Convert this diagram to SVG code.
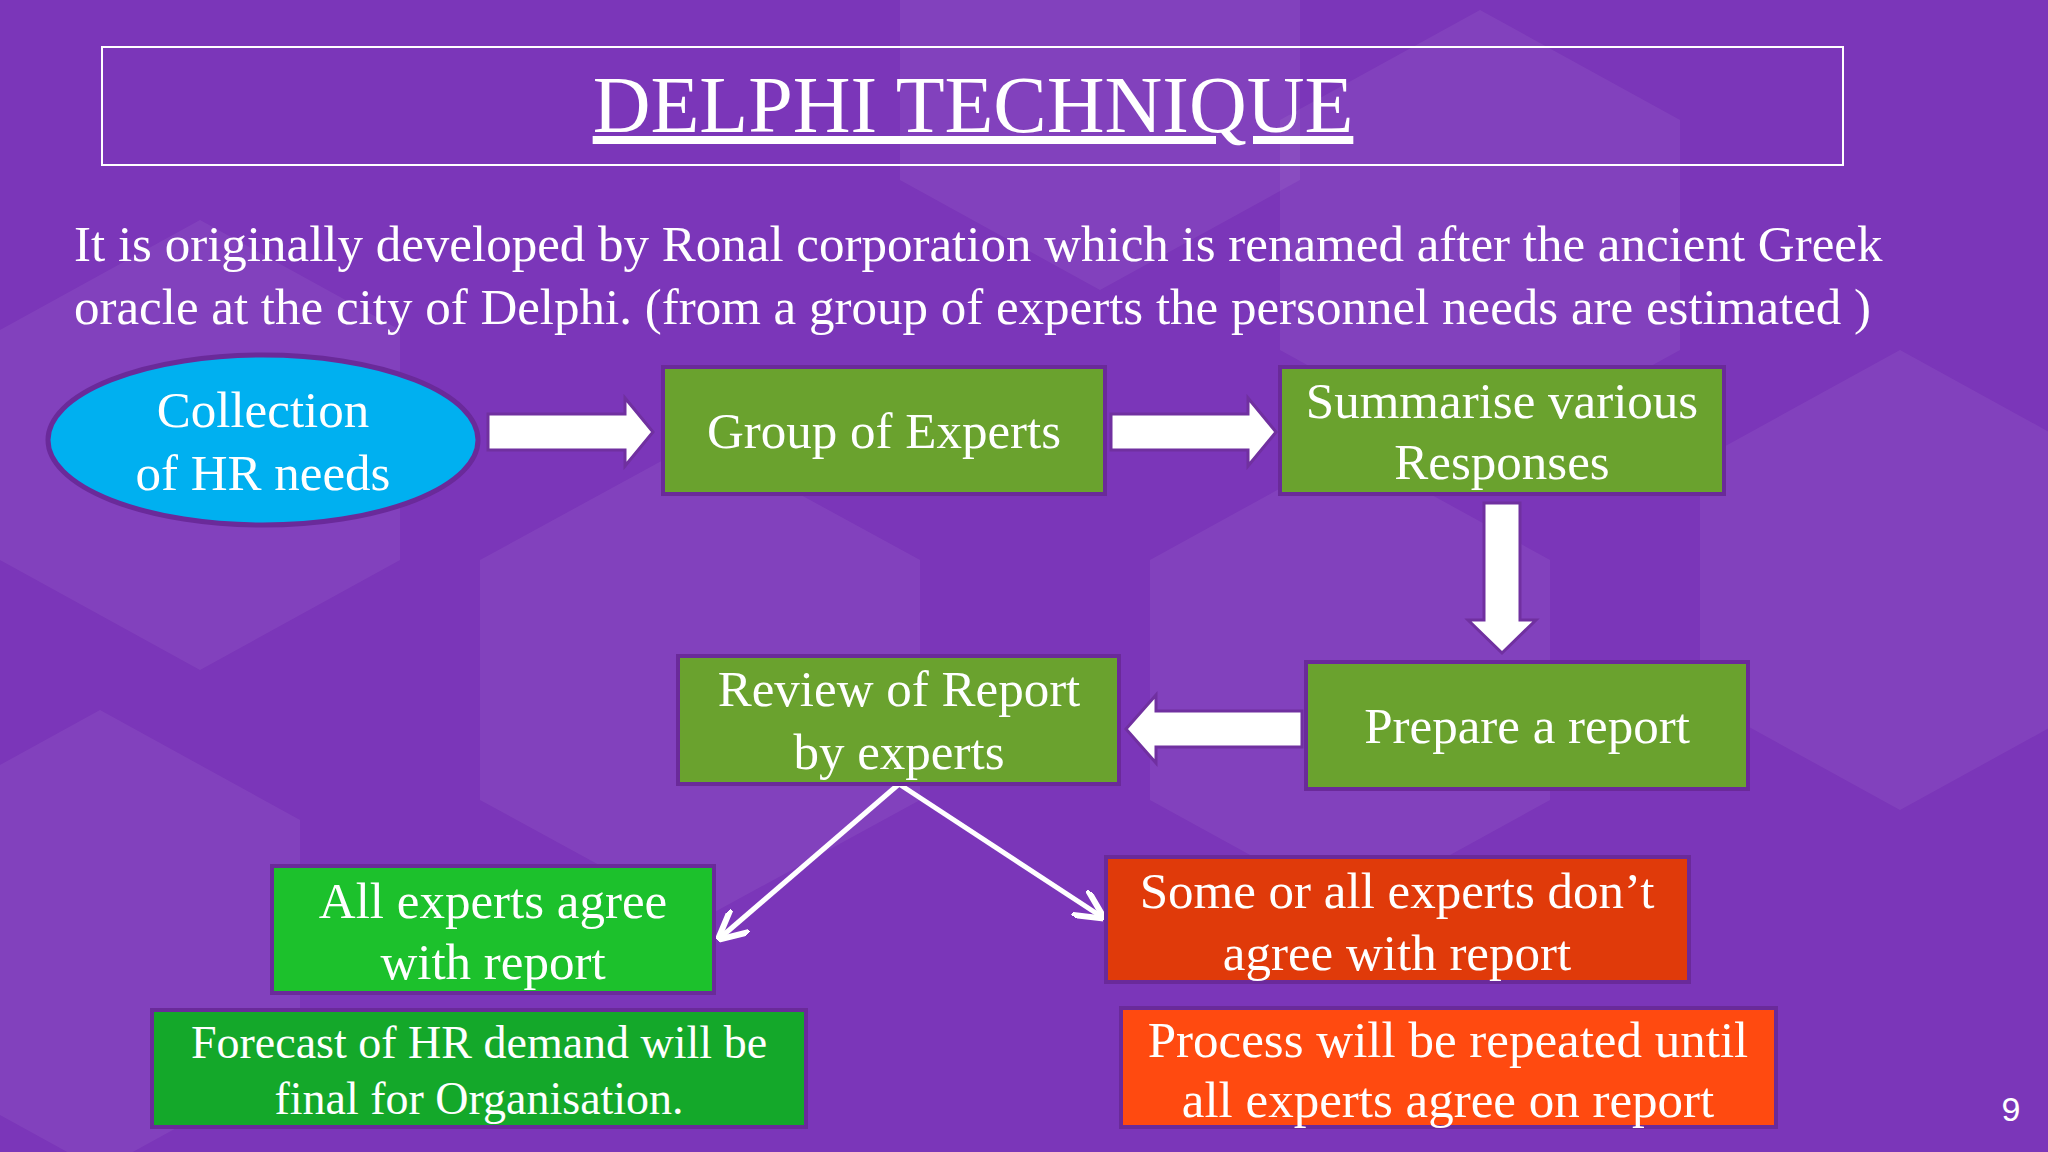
<svg xmlns="http://www.w3.org/2000/svg" width="2048" height="1152" viewBox="0 0 2048 1152">
<defs>
<style>
text{font-family:"Liberation Serif",serif;fill:#fff;text-anchor:middle}
.box{stroke:#6a2a9a;stroke-width:4}
.g{fill:#6aa22e}
.t{font-size:51px}
.hex{fill:#ffffff;opacity:0.06}
.ba{fill:#fff;stroke:#7030a0;stroke-width:3}
.ln{stroke:#fff;stroke-width:5;fill:none}
</style>
<marker id="ah" viewBox="0 0 10 10" refX="9" refY="5" markerWidth="6" markerHeight="6" orient="auto" markerUnits="strokeWidth"><path d="M0,0 L10,5 L0,10" fill="none" stroke="#fff" stroke-width="2"/></marker>
</defs>
<rect width="2048" height="1152" fill="#7b36b9"/>
<g>
<polygon class="hex" points="0,330 200,220 400,330 400,560 200,670 0,560"/>
<polygon class="hex" points="480,560 700,440 920,560 920,800 700,920 480,800"/>
<polygon class="hex" points="1280,120 1480,10 1680,120 1680,350 1480,460 1280,350"/>
<polygon class="hex" points="1700,460 1900,350 2100,460 2100,700 1900,810 1700,700"/>
<polygon class="hex" points="-100,820 100,710 300,820 300,1060 100,1170 -100,1060"/>
<polygon class="hex" points="900,-60 1100,-170 1300,-60 1300,180 1100,290 900,180"/>
<polygon class="hex" points="1150,560 1350,450 1550,560 1550,800 1350,910 1150,800"/>
</g>
<rect x="102" y="47" width="1741" height="118" fill="none" stroke="#fff" stroke-width="2"/>
<text x="973" y="132" font-size="80" text-decoration="underline">DELPHI TECHNIQUE</text>
<text x="74" y="261" font-size="51" style="text-anchor:start">It is originally developed by Ronal corporation which is renamed after the ancient Greek</text>
<text x="74" y="324" font-size="51" style="text-anchor:start">oracle at the city of Delphi. (from a group of experts the personnel needs are estimated )</text>
<g id="connectors">
<polygon class="ba" points="488,414 625,414 625,398 653,432 625,466 625,450 488,450"/>
<polygon class="ba" points="1111,414 1248,414 1248,398 1276,432 1248,466 1248,450 1111,450"/>
<polygon class="ba" points="1484,503 1520,503 1520,620 1536,620 1502,653 1468,620 1484,620"/>
<polygon class="ba" points="1302,711 1156,711 1156,695 1126,729 1156,763 1156,747 1302,747"/>
<line class="ln" x1="899" y1="784" x2="720" y2="938" marker-end="url(#ah)"/>
<line class="ln" x1="899" y1="784" x2="1102" y2="917" marker-end="url(#ah)"/>
</g>
<g id="n1"><ellipse cx="263" cy="440" rx="215" ry="85" fill="#00b0f0" stroke="#6a2a9a" stroke-width="5"/>
<text class="t" x="263" y="427">Collection</text><text class="t" x="263" y="490">of HR needs</text></g>
<g id="n2"><rect class="box g" x="663" y="367" width="442" height="127"/><text class="t" x="884" y="448">Group of Experts</text></g>
<g id="n3"><rect class="box g" x="1280" y="367" width="444" height="127"/><text class="t" x="1502" y="418">Summarise various</text><text class="t" x="1502" y="479">Responses</text></g>
<g id="n4"><rect class="box g" x="1306" y="662" width="442" height="127"/><text class="t" x="1527" y="743">Prepare a report</text></g>
<g id="n5"><rect class="box g" x="678" y="656" width="441" height="128"/><text class="t" x="899" y="706">Review of Report</text><text class="t" x="899" y="769">by experts</text></g>
<g id="n6"><rect class="box" fill="#1cc12c" x="272" y="866" width="442" height="127"/><text class="t" x="493" y="918">All experts agree</text><text class="t" x="493" y="979">with report</text></g>
<g id="n7"><rect class="box" fill="#14a82a" x="152" y="1010" width="654" height="117"/><text x="479" y="1058" font-size="46">Forecast of HR demand will be</text><text x="479" y="1114" font-size="46">final for Organisation.</text></g>
<g id="n8"><rect class="box" fill="#e03a0a" x="1106" y="857" width="583" height="125"/><text class="t" x="1397" y="908">Some or all experts don’t</text><text class="t" x="1397" y="970">agree with report</text></g>
<g id="n9"><rect class="box" fill="#ff4a10" x="1121" y="1008" width="655" height="119"/><text class="t" x="1448" y="1057">Process will be repeated until</text><text class="t" x="1448" y="1117">all experts agree on report</text></g>
<text x="2011" y="1121" font-size="34" style="font-family:'Liberation Sans',sans-serif">9</text>
</svg>
